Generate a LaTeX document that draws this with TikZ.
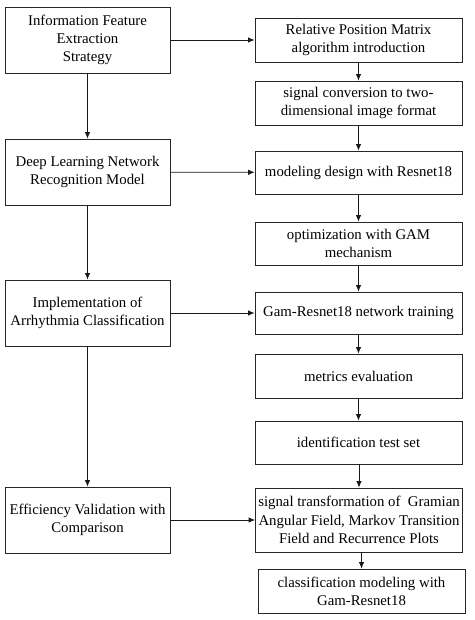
\documentclass[tikz,border=0pt]{standalone}
\usepackage{fontspec}
\setmainfont{Liberation Serif}
\usetikzlibrary{arrows.meta}
\begin{document}
\begin{tikzpicture}[x=1pt,y=-1pt,
  box/.style={draw=black!85, line width=0.8pt, rectangle, inner sep=0pt, align=center,
    font=\fontsize{14.8}{18.2}\selectfont},
  lbox/.style={box, minimum width=165pt, minimum height=66pt},
  rbox/.style={box, minimum width=207pt, minimum height=44pt},
  arr/.style={draw=black!90, line width=0.8pt, -{Latex[length=6.5pt,width=5.5pt]}}]
\useasboundingbox (0,0) rectangle (474,620);
\node[lbox] (L1) at (87.5,40) {Information Feature\\Extraction\\Strategy};
\node[lbox] (L2) at (87.5,172) {Deep Learning Network\\Recognition Model};
\node[lbox] (L3) at (87.5,313) {Implementation of\\Arrhythmia Classification};
\node[lbox] (L4) at (87.5,520) {Efficiency Validation with\\Comparison};
\node[rbox] (R1) at (358.5,40) {Relative Position Matrix\\algorithm introduction};
\node[rbox] (R2) at (358.5,103) {signal conversion to two-\\dimensional image format};
\node[rbox, minimum height=43pt] (R3) at (358.5,172.5) {modeling design with Resnet18};
\node[rbox, minimum height=43pt] (R4) at (358.5,243.5) {optimization with GAM\\mechanism};
\node[rbox, minimum height=42pt] (R5) at (358.5,313) {Gam-Resnet18 network training};
\node[rbox] (R6) at (358.5,376) {metrics evaluation};
\node[rbox, minimum height=43pt] (R7) at (358.5,442.5) {identification test set};
\node[rbox, minimum height=64pt] (R8) at (359,520) {signal transformation of\ \ Gramian\\Angular Field, Markov Transition\\Field and Recurrence Plots};
\node[rbox] (R9) at (361.5,591) {classification modeling with\\Gam-Resnet18};
\draw[arr] (L1) -- (L2);
\draw[arr] (L2) -- (L3);
\draw[arr] (L3) -- (L4);
\draw[arr] (L1) -- (R1);
\draw[arr] (L2) -- (R3);
\draw[arr] (L3) -- (R5);
\draw[arr] (L4) -- (R8);
\draw[arr] (R1) -- (R2);
\draw[arr] (R2) -- (R3);
\draw[arr] (R3) -- (R4);
\draw[arr] (R4) -- (R5);
\draw[arr] (R5) -- (R6);
\draw[arr] (R6) -- (R7);
\draw[arr] (R7.south -| R8.north) -- (R8.north);
\draw[arr] (R8.south -| R9.north) -- (R9.north);
\end{tikzpicture}
\end{document}
